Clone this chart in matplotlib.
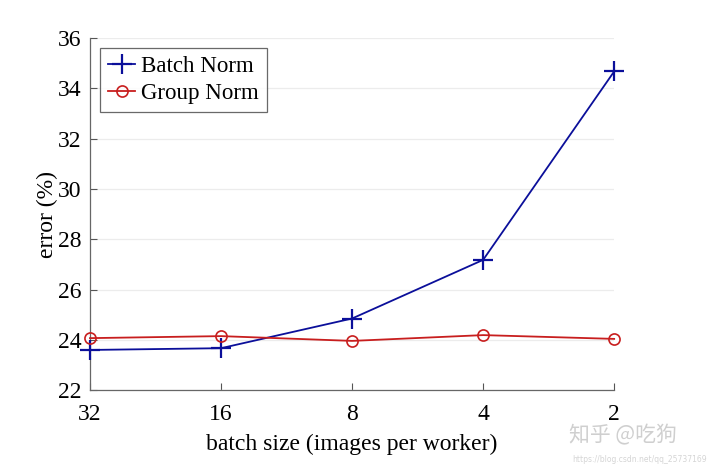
import matplotlib.pyplot as plt
import numpy as np

batch_labels = ['32', '16', '8', '4', '2']
batch_norm = [23.6, 23.67, 24.85, 27.18, 34.67]
group_norm = [24.07, 24.15, 23.96, 24.19, 24.04]
y_ticks = [22, 24, 26, 28, 30, 32, 34, 36]

plt.rcParams['font.family'] = ['Liberation Serif', 'DejaVu Serif']

fig = plt.figure(figsize=(7.2, 4.69), dpi=100)
ax = fig.add_axes([0.125, 0.168, 0.728, 0.751])

x = np.arange(len(batch_labels))
ax.plot(x, batch_norm, color='#0b0f9a', lw=1.3, marker='+', ms=14, mew=1.6,
        label='Batch Norm', clip_on=False, zorder=3)
ax.plot(x, group_norm, color='#c81e1e', lw=1.3, marker='o', ms=8, mew=1.2,
        mfc='none', label='Group Norm', clip_on=False, zorder=3)

ax.set_xlim(0, len(batch_labels) - 1)
ax.set_ylim(22, 36)
ax.set_xticks(x)
ax.set_xticklabels(batch_labels)
ax.set_yticks(y_ticks)
ax.tick_params(direction='in', labelsize=17, length=5, color='#555555', pad=6)
ax.tick_params(axis='x', pad=10)
ax.yaxis.grid(True, color='#ececec', lw=0.9)
ax.set_axisbelow(True)
for s in ['top', 'right']:
    ax.spines[s].set_visible(False)
for s in ['left', 'bottom']:
    ax.spines[s].set_color('#666666')
    ax.spines[s].set_linewidth(0.9)

ax.set_xlabel('batch size (images per worker)', fontsize=17, labelpad=6)
ax.set_ylabel('error (%)', fontsize=17, labelpad=0)

leg = ax.legend(loc='upper left', bbox_to_anchor=(0.01, 0.985), fontsize=16.5,
                frameon=True, fancybox=False, handlelength=1.2,
                handletextpad=0.25, borderpad=0.35, labelspacing=0.25,
                borderaxespad=0.2)
leg.get_frame().set_edgecolor('#444444')
leg.get_frame().set_linewidth(0.9)

# watermark
fig.text(0.79, 0.06, '知乎 @吃狗', fontsize=15, color='#cfcfcf',
         family=['Noto Sans CJK SC', 'DejaVu Sans'])
fig.text(0.795, 0.015, 'https://blog.csdn.net/qq_25737169', fontsize=5.5,
         color='#d5d5d5', family=['DejaVu Sans'])

fig.savefig('out.png', dpi=100)
